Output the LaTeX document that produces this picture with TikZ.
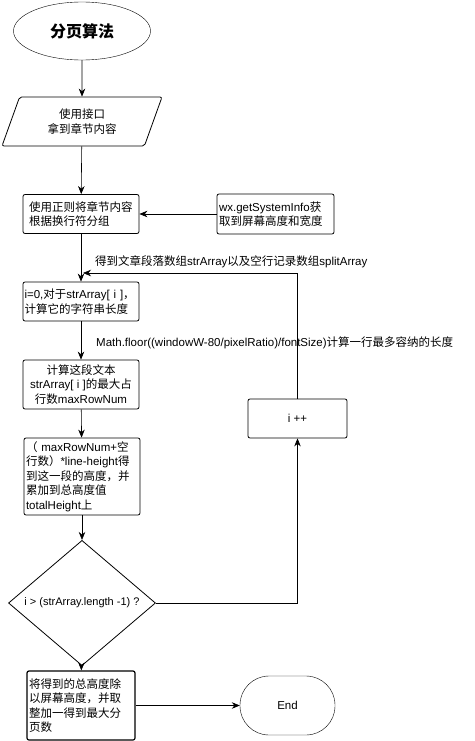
\documentclass[tikz,border=0pt]{standalone}
\usepackage{fontspec}
\setmainfont{Liberation Sans}
\newfontfamily\cjk{Noto Sans CJK SC}
\usetikzlibrary{shapes.geometric, arrows.meta}

% 汉字自动换用 CJK 字体
\XeTeXinterchartokenstate=1
\newXeTeXintercharclass\cjkcls
\newcount\cjkcode
\cjkcode="4E00 \loop\XeTeXcharclass\cjkcode=\cjkcls \advance\cjkcode 1 \ifnum\cjkcode<"A000 \repeat
\cjkcode="FF00 \loop\XeTeXcharclass\cjkcode=\cjkcls \advance\cjkcode 1 \ifnum\cjkcode<"FFF0 \repeat
\XeTeXinterchartoks 0 \cjkcls = {\cjk}
\XeTeXinterchartoks 4095 \cjkcls = {\cjk}
\XeTeXinterchartoks \cjkcls 0 = {\rmfamily}
\XeTeXinterchartoks \cjkcls 4095 = {\rmfamily}

\tikzset{
  box/.style={draw, thick, rounded corners=2pt, align=left, inner sep=0pt},
  flow/.style={->, >={Stealth[length=8pt,width=6.5pt]}, semithick},
  note/.style={anchor=west, inner sep=0pt}
}

\begin{document}
\begin{tikzpicture}[x=1pt,y=-1pt,font=\fontsize{11.5}{14.5}\selectfont]
  \useasboundingbox (0,0) rectangle (474,741);
  % 开始
  \node[draw,ellipse,minimum width=137,minimum height=58] (start) at (82,31) {\fontsize{16}{18}\selectfont\bfseries 分页算法};
  \node[draw,thick,trapezium,trapezium left angle=55,trapezium right angle=125,trapezium stretches body,
        minimum width=160,minimum height=49,rounded corners=2pt,align=center,inner sep=0pt] (api) at (82,121.5)
        {使用接口\\拿到章节内容};
  % 分组
  \node[box,minimum width=116,minimum height=39,text width=104] (split) at (81,214) {使用正则将章节内容\\根据换行符分组};
  \node[box,minimum width=117,minimum height=40,text width=113] (sysinfo) at (275.5,214) {wx.getSystemInfo获\\取到屏幕高度和宽度};
  \node[box,minimum width=116,minimum height=39,text width=113] (init) at (81,301.5) {i=0,对于strArray[ i ]，\\计算它的字符串长度};
  \node[box,minimum width=116,minimum height=49,align=center] (rows) at (81,384.5) {计算这段文本\\strArray[ i ]的最大占\\行数maxRowNum};
  \node[box,minimum width=116,minimum height=77,text width=112] (height) at (82,476.5)
        {（ maxRowNum+空\\行数）*line-height得\\到这一段的高度，并\\累加到总高度值\\totalHeight上};
  % 判断
  \node[draw,thick,diamond,minimum width=147,minimum height=96,inner sep=0pt,font=\fontsize{11}{12}\selectfont] (check) at (82,603)
        {i > (strArray.length -1) ?};
  \node[box,minimum width=99,minimum height=39,align=center] (incr) at (297.5,418.5) {i ++};
  % 结束
  \node[box,very thick,minimum width=108,minimum height=69,text width=104] (pages) at (81,705.5)
        {将得到的总高度除\\以屏幕高度，并取\\整加一得到最大分\\页数};
  \node[draw,rounded corners=29pt,minimum width=95,minimum height=59] (stop) at (287.5,705.5) {End};

  \coordinate (loopin) at (83,273);
  \node[note] (lbla) at (95,262) {得到文章段落数组strArray以及空行记录数组splitArray};
  \node[note] (lblb) at (96,343) {Math.floor((windowW-80/pixelRatio)/fontSize)计算一行最多容纳的长度};

  \draw[flow] (start) -- (api);
  \draw[flow] (api) -- (split);
  \draw[flow] (sysinfo) -- (split);
  \draw[flow] (split) -- (init);
  \draw[flow] (init) -- (rows);
  \draw[flow] (rows) -- (height);
  \draw[flow] (height) -- (check);
  \draw[flow] (check.east) -| (incr.south);
  \draw[flow] (incr.north) |- (loopin);
  \draw[flow] (check) -- (pages);
  \draw[flow] (pages) -- (stop);
\end{tikzpicture}
\end{document}
